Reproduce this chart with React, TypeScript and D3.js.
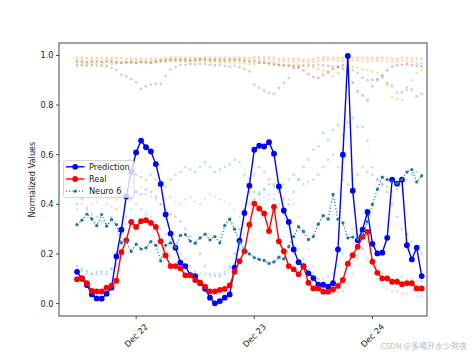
import React from "react";
import * as d3 from "d3";

// hourly samples starting Dec 21 12:00
const START_UTC = Date.UTC(2023, 11, 21, 12, 0);
const HOUR_MS = 3600 * 1000;

const prediction = [
  0.128, 0.10, 0.075, 0.037, 0.021, 0.02, 0.04, 0.064, 0.19, 0.298,
  0.432, 0.53, 0.609, 0.657, 0.63, 0.613, 0.562, 0.482, 0.359, 0.282,
  0.225, 0.165, 0.151, 0.115, 0.111, 0.082, 0.06, 0.024, 0.001, 0.01,
  0.024, 0.037, 0.145, 0.254, 0.365, 0.475, 0.62, 0.636, 0.633, 0.65,
  0.604, 0.472, 0.375, 0.329, 0.218, 0.167, 0.151, 0.122, 0.103, 0.076,
  0.076, 0.068, 0.082, 0.218, 0.6, 0.998, 0.455, 0.255, 0.298, 0.369,
  0.241, 0.202, 0.205, 0.265, 0.499, 0.483, 0.499, 0.235, 0.178, 0.225,
  0.111,
];

const real = [
  0.098, 0.103, 0.082, 0.051, 0.049, 0.049, 0.064, 0.072, 0.092, 0.207,
  0.255, 0.329, 0.309, 0.332, 0.336, 0.325, 0.309, 0.251, 0.194, 0.151,
  0.151, 0.142, 0.114, 0.114, 0.095, 0.084, 0.068, 0.049, 0.049, 0.055,
  0.059, 0.073, 0.128, 0.171, 0.211, 0.318, 0.403, 0.383, 0.363, 0.292,
  0.39, 0.251, 0.211, 0.151, 0.138, 0.118, 0.149, 0.084, 0.061, 0.061,
  0.048, 0.048, 0.057, 0.071, 0.095, 0.161, 0.195, 0.229, 0.269, 0.289,
  0.169, 0.124, 0.102, 0.102, 0.088, 0.088, 0.078, 0.082, 0.082, 0.061,
  0.061,
];

const neuro6 = [
  0.318, 0.336, 0.361, 0.341, 0.314, 0.359, 0.312, 0.339, 0.318, 0.245,
  0.25, 0.21, 0.24, 0.22, 0.225, 0.25, 0.235, 0.172, 0.235, 0.245,
  0.228, 0.275, 0.278, 0.252, 0.243, 0.265, 0.28, 0.257, 0.27, 0.245,
  0.315, 0.34, 0.30, 0.25, 0.22, 0.20, 0.185, 0.178, 0.174, 0.162,
  0.168, 0.187, 0.18, 0.23, 0.27, 0.31, 0.29, 0.258, 0.27, 0.32,
  0.355, 0.34, 0.44, 0.34, 0.325, 0.265, 0.268, 0.26, 0.275, 0.33,
  0.40, 0.46, 0.51, 0.50, 0.49, 0.485, 0.50, 0.53, 0.54, 0.49,
  0.515,
];

// other neurons (drawn faintly, not in legend)
const neuroOrange = [
  0.99, 0.99, 0.99, 0.99, 0.99, 0.99, 0.99, 0.99, 0.99, 0.99,
  0.986, 0.986, 0.986, 0.986, 0.986, 0.986, 0.986, 0.986, 0.99, 0.992,
  0.992, 0.99, 0.99, 0.99, 0.99, 0.99, 0.99, 0.99, 0.99, 0.99,
  0.99, 0.99, 0.99, 0.99, 0.99, 0.99, 0.992, 0.992, 0.992, 0.992,
  0.99, 0.986, 0.986, 0.986, 0.986, 0.986, 0.982, 0.982, 0.986, 0.99,
  0.99, 0.99, 0.99, 0.99, 0.99, 0.99, 0.99, 0.99, 0.99, 0.99,
  0.99, 0.99, 0.99, 0.99, 0.986, 0.986, 0.99, 0.99, 0.986, 0.986,
  0.986,
];
const neuroPeach = [
  0.978, 0.978, 0.976, 0.978, 0.978, 0.976, 0.978, 0.978, 0.975, 0.972,
  0.975, 0.975, 0.976, 0.975, 0.975, 0.976, 0.975, 0.978, 0.98, 0.982,
  0.982, 0.982, 0.98, 0.98, 0.98, 0.98, 0.98, 0.982, 0.98, 0.98,
  0.98, 0.978, 0.98, 0.98, 0.98, 0.978, 0.982, 0.982, 0.98, 0.98,
  0.976, 0.975, 0.976, 0.976, 0.975, 0.976, 0.975, 0.972, 0.975, 0.978,
  0.98, 0.98, 0.982, 0.978, 0.976, 0.978, 0.978, 0.98, 0.978, 0.975,
  0.978, 0.98, 0.978, 0.976, 0.975, 0.975, 0.978, 0.976, 0.974, 0.97,
  0.968,
];
const neuroRed = [
  0.975, 0.975, 0.972, 0.975, 0.975, 0.972, 0.975, 0.975, 0.972, 0.97,
  0.97, 0.972, 0.97, 0.975, 0.972, 0.97, 0.975, 0.978, 0.98, 0.982,
  0.982, 0.982, 0.982, 0.98, 0.982, 0.985, 0.985, 0.982, 0.982, 0.98,
  0.98, 0.982, 0.982, 0.98, 0.978, 0.975, 0.975, 0.972, 0.97, 0.968,
  0.965, 0.962, 0.96, 0.958, 0.955, 0.95, 0.94, 0.925, 0.913, 0.91,
  0.922, 0.932, 0.945, 0.955, 0.96, 0.93, 0.89, 0.855, 0.839, 0.819,
  0.902, 0.905, 0.918, 0.94, 0.955, 0.96, 0.962, 0.965, 0.96, 0.958,
  0.955,
];
const neuroOlive = [
  0.965, 0.965, 0.962, 0.965, 0.965, 0.962, 0.96, 0.965, 0.968, 0.97,
  0.972, 0.972, 0.97, 0.972, 0.972, 0.97, 0.972, 0.975, 0.975, 0.978,
  0.978, 0.978, 0.975, 0.975, 0.978, 0.978, 0.975, 0.975, 0.975, 0.972,
  0.972, 0.97, 0.97, 0.968, 0.968, 0.965, 0.965, 0.968, 0.968, 0.965,
  0.962, 0.96, 0.958, 0.96, 0.962, 0.96, 0.958, 0.955, 0.95, 0.945,
  0.94, 0.935, 0.916, 0.93, 0.945, 0.95, 0.955, 0.95, 0.945, 0.94,
  0.935, 0.93, 0.92, 0.88, 0.831, 0.824, 0.822, 0.86, 0.9, 0.93,
  0.94,
];
const neuroGray = [
  0.958, 0.96, 0.958, 0.96, 0.958, 0.958, 0.955, 0.95, 0.942, 0.922,
  0.916, 0.905, 0.892, 0.865, 0.875, 0.882, 0.886, 0.886, 0.918, 0.942,
  0.953, 0.962, 0.962, 0.965, 0.965, 0.965, 0.965, 0.962, 0.96, 0.962,
  0.958, 0.955, 0.958, 0.953, 0.945, 0.936, 0.882, 0.869, 0.858, 0.849,
  0.845, 0.869, 0.889, 0.909, 0.949, 0.956, 0.96, 0.962, 0.96, 0.962,
  0.96, 0.958, 0.955, 0.952, 0.948, 0.945, 0.94, 0.93, 0.91, 0.9,
  0.876, 0.9, 0.91, 0.889, 0.876, 0.851, 0.851, 0.871, 0.862, 0.835,
  0.845,
];
const neuroBlue = [
  0.15, 0.14, 0.13, 0.12, 0.12, 0.13, 0.12, 0.14, 0.16, 0.28,
  0.35, 0.42, 0.45, 0.44, 0.46, 0.45, 0.43, 0.40, 0.38, 0.36,
  0.35, 0.33, 0.30, 0.27, 0.25, 0.20, 0.15, 0.12, 0.11, 0.11,
  0.12, 0.15, 0.20, 0.30, 0.38, 0.45, 0.52, 0.55, 0.53, 0.50,
  0.48, 0.45, 0.42, 0.40, 0.45, 0.50, 0.55, 0.58, 0.62, 0.633,
  0.688, 0.66, 0.70, 0.72, 0.68, 0.73, 0.748, 0.712, 0.712, 0.657,
  0.55, 0.50, 0.48, 0.45, 0.40, 0.35, 0.30, 0.28, 0.25, 0.22,
  0.20,
];
const neuroGreen = [
  0.40, 0.42, 0.38, 0.36, 0.35, 0.33, 0.32, 0.35, 0.38, 0.45,
  0.48, 0.50, 0.52, 0.51, 0.50, 0.52, 0.50, 0.48, 0.47, 0.50,
  0.52, 0.53, 0.55, 0.54, 0.53, 0.55, 0.57, 0.55, 0.53, 0.54,
  0.55, 0.56, 0.58, 0.57, 0.52, 0.50, 0.45, 0.44, 0.46, 0.48,
  0.47, 0.46, 0.48, 0.50, 0.52, 0.50, 0.48, 0.49, 0.50, 0.52,
  0.55, 0.58, 0.60, 0.55, 0.50, 0.48, 0.50, 0.52, 0.55, 0.53,
  0.52, 0.50, 0.48, 0.47, 0.45, 0.46, 0.48, 0.50, 0.52, 0.53,
  0.52,
];
const neuroPink = [
  0.38, 0.40, 0.39, 0.40, 0.41, 0.38, 0.40, 0.39, 0.42, 0.45,
  0.46, 0.44, 0.45, 0.47, 0.44, 0.43, 0.42, 0.40, 0.42, 0.43,
  0.41, 0.40, 0.42, 0.43, 0.41, 0.40, 0.42, 0.44, 0.43, 0.42,
  0.41, 0.40, 0.38, 0.35, 0.38, 0.40, 0.42, 0.44, 0.43, 0.42,
  0.44, 0.45, 0.43, 0.42, 0.40, 0.35, 0.30, 0.22, 0.15, 0.10,
  0.06, 0.05, 0.04, 0.045, 0.05, 0.08, 0.12, 0.18, 0.22, 0.25,
  0.15, 0.10, 0.08, 0.06, 0.05, 0.05, 0.04, 0.04, 0.05, 0.03,
  0.03,
];
const neuroCyan = [
  0.14, 0.13, 0.12, 0.12, 0.13, 0.12, 0.13, 0.14, 0.15, 0.25,
  0.32, 0.38, 0.40, 0.38, 0.36, 0.35, 0.33, 0.30, 0.28, 0.26,
  0.24, 0.20, 0.18, 0.15, 0.13, 0.12, 0.12, 0.11, 0.12, 0.12,
  0.13, 0.14, 0.16, 0.22, 0.28, 0.35, 0.42, 0.45, 0.46, 0.44,
  0.42, 0.40, 0.36, 0.32, 0.27, 0.22, 0.18, 0.14, 0.12, 0.10,
  0.10, 0.11, 0.12, 0.15, 0.20, 0.26, 0.30, 0.28, 0.22, 0.18,
  0.16, 0.14, 0.12, 0.11, 0.10, 0.10, 0.11, 0.10, 0.10, 0.09,
  0.09,
];

const xTickDates = [Date.UTC(2023, 11, 22), Date.UTC(2023, 11, 23), Date.UTC(2023, 11, 24)];
const xTickLabels = ["Dec 22", "Dec 23", "Dec 24"];
const yTicks = [0.0, 0.2, 0.4, 0.6, 0.8, 1.0];
const legendLabels = ["Prediction", "Real", "Neuro 6"];

const FONT = "DejaVu Sans, Liberation Sans, sans-serif";

export default function App() {
  const W = 474;
  const H = 355;
  const left = 59;
  const right = 427;
  const top = 43;
  const bottom = 316;

  const x = d3
    .scaleUtc()
    .domain([new Date(Date.UTC(2023, 11, 21, 8, 20)), new Date(Date.UTC(2023, 11, 24, 11, 5))])
    .range([left, right]);
  const y = d3.scaleLinear().domain([-0.05, 1.05]).range([bottom, top]);

  const tx = (i: number) => x(new Date(START_UTC + i * HOUR_MS));
  const lineGen = d3
    .line<number>()
    .x((_, i) => tx(i))
    .y((d) => y(d));

  const faint = [
    { v: neuroBlue, c: "#1f77b4", o: 0.26 },
    { v: neuroCyan, c: "#17becf", o: 0.26 },
    { v: neuroGreen, c: "#2ca02c", o: 0.26 },
    { v: neuroPink, c: "#e377c2", o: 0.24 },
    { v: neuroGray, c: "#7f7f7f", o: 0.35 },
    { v: neuroOlive, c: "#bcbd22", o: 0.35 },
    { v: neuroRed, c: "#d62728", o: 0.35 },
    { v: neuroPeach, c: "#e8a060", o: 0.35 },
    { v: neuroOrange, c: "#ff7f0e", o: 0.35 },
  ];

  const teal = "#23779f";
  const fs = 8.2;

  return (
    <svg
      width={W}
      height={H}
      style={{ position: "absolute", left: 0, top: 0, background: "#fff" }}
      fontFamily={FONT}
    >
      <rect x={0} y={0} width={W} height={H} fill="#fff" />

      {/* faint neurons */}
      {faint.map((s, k) => (
        <g key={k} opacity={s.o}>
          <path
            d={lineGen(s.v) || ""}
            fill="none"
            stroke={s.c}
            strokeOpacity={0.45}
            strokeWidth={0.9}
            strokeDasharray="0.9,2.4"
          />
          {s.v.map((d, i) => (
            <circle key={i} cx={tx(i)} cy={y(d)} r={1.35} fill={s.c} />
          ))}
        </g>
      ))}

      {/* Prediction */}
      <path d={lineGen(prediction) || ""} fill="none" stroke="#0000ff" strokeWidth={1.4} />
      {prediction.map((d, i) => (
        <circle key={"p" + i} cx={tx(i)} cy={y(d)} r={2.9} fill="#0000ff" />
      ))}

      {/* Real */}
      <path d={lineGen(real) || ""} fill="none" stroke="#ff0000" strokeWidth={1.4} />
      {real.map((d, i) => (
        <circle key={"r" + i} cx={tx(i)} cy={y(d)} r={2.9} fill="#ff0000" />
      ))}

      {/* Neuro 6 */}
      <path d={lineGen(neuro6) || ""} fill="none" stroke={teal} strokeWidth={1.2} strokeDasharray="1.2,2" />
      {neuro6.map((d, i) => (
        <circle key={"n" + i} cx={tx(i)} cy={y(d)} r={1.6} fill={teal} />
      ))}

      {/* frame */}
      <rect x={left} y={top} width={right - left} height={bottom - top} fill="none" stroke="#333" strokeWidth={0.9} />

      {/* y axis */}
      {yTicks.map((t) => (
        <g key={t}>
          <line x1={left - 3} x2={left} y1={y(t)} y2={y(t)} stroke="#333" strokeWidth={0.9} />
          <text x={left - 5.5} y={y(t)} fontSize={fs} textAnchor="end" dominantBaseline="central" fill="#222">
            {t.toFixed(1)}
          </text>
        </g>
      ))}
      <text
        transform={`translate(32,${(top + bottom) / 2}) rotate(-90)`}
        fontSize={fs}
        textAnchor="middle"
        dominantBaseline="central"
        fill="#222"
      >
        Normalized Values
      </text>

      {/* x axis */}
      {xTickDates.map((d, k) => {
        const px = x(new Date(d));
        return (
          <g key={d}>
            <line x1={px} x2={px} y1={bottom} y2={bottom + 3} stroke="#333" strokeWidth={0.9} />
            <text
              transform={`translate(${px},${bottom + 19.5}) rotate(-45)`}
              fontSize={fs}
              textAnchor="middle"
              dominantBaseline="central"
              fill="#222"
            >
              {xTickLabels[k]}
            </text>
          </g>
        );
      })}

      {/* legend */}
      <g>
        <rect x={63.5} y={160.5} width={70.5} height={37} rx={2} fill="#fff" fillOpacity={0.8} stroke="#cccccc" strokeWidth={0.8} />
        {legendLabels.map((lab, k) => {
          const ly = 166.8 + k * 12.2;
          const col = k === 0 ? "#0000ff" : k === 1 ? "#ff0000" : teal;
          return (
            <g key={lab}>
              {k < 2 ? (
                <>
                  <line x1={66} x2={84.5} y1={ly} y2={ly} stroke={col} strokeWidth={1.4} />
                  <circle cx={75.2} cy={ly} r={2.9} fill={col} />
                </>
              ) : (
                <>
                  <line x1={66} x2={84.5} y1={ly} y2={ly} stroke={col} strokeWidth={1.2} strokeDasharray="1.2,2" />
                  <circle cx={75.2} cy={ly} r={1.6} fill={col} />
                </>
              )}
              <text x={89} y={ly} fontSize={fs} dominantBaseline="central" fill="#222">
                {lab}
              </text>
            </g>
          );
        })}
      </g>

      {/* watermark */}
      <text
        x={467}
        y={349}
        fontSize={8}
        textAnchor="end"
        fill="#bdbdbd"
        fontFamily="Noto Sans CJK SC, DejaVu Sans, sans-serif"
      >
        CSDN @多喝开水少熬夜
      </text>
    </svg>
  );
}
